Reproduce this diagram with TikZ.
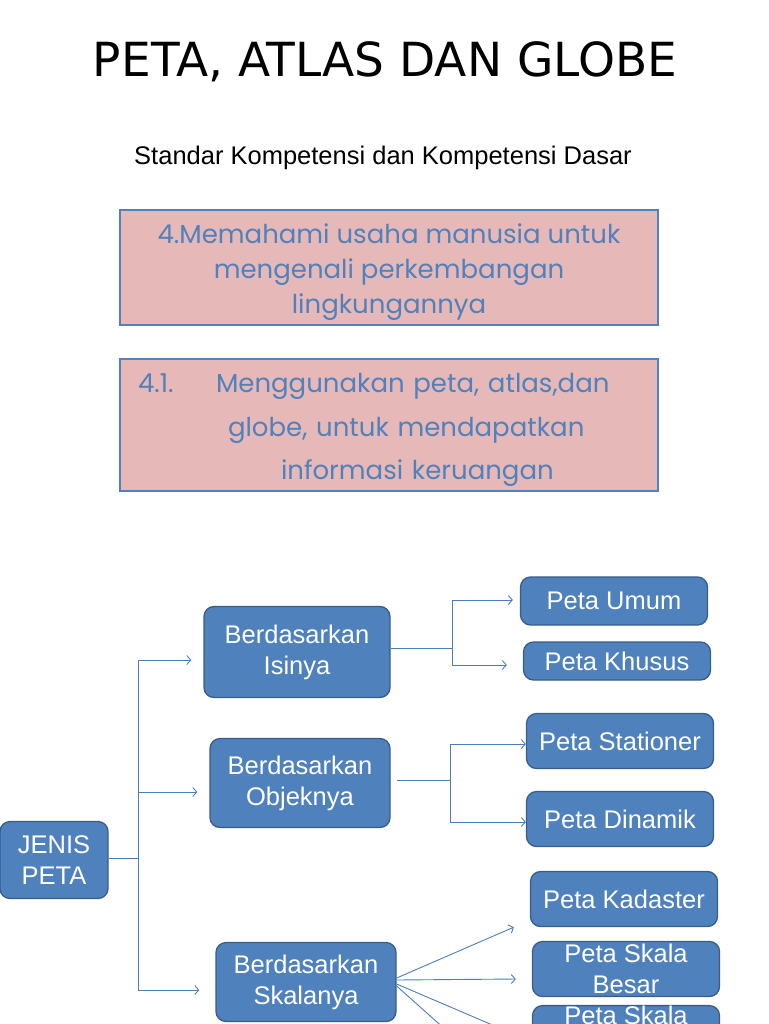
\documentclass[tikz,border=0pt]{standalone}
\usepackage{fontspec}
\setmainfont{Liberation Sans}
\newfontfamily\judulfont{DejaVu Sans}
\newfontfamily\kdfont{Poppins}
\usetikzlibrary{positioning,arrows.meta}
\definecolor{biru}{HTML}{4F81BD}
\definecolor{birutua}{HTML}{385D8A}
\definecolor{merahmuda}{HTML}{E6B9B8}
\definecolor{garis}{HTML}{4A7EBB}
\tikzset{
    jenis/.style={rectangle, rounded corners=10pt, draw=birutua, line width=1.3pt, fill=biru, text=white, align=center, inner sep=0pt, font=\fontsize{25.5}{31}\selectfont},
    kd/.style={rectangle, draw=biru, line width=1.5pt, fill=merahmuda},
    kd teks/.style={text=biru, inner sep=0pt, font=\kdfont\fontsize{26}{35}\selectfont},
    conn/.style={draw=garis, line width=0.9pt},
    arr/.style={conn, -{Straight Barb[length=4pt,width=9pt]}}
}

\begin{document}
\begin{tikzpicture}[x=1pt, y=-1pt]
    \useasboundingbox (0,0) rectangle (768,1024);
    \clip (0,0) rectangle (768,1024);

    % judul
    \node[font=\judulfont\fontsize{47}{50}\selectfont] (judul) at (385,62) {PETA, ATLAS DAN GLOBE};
    \node[font=\fontsize{25.5}{28}\selectfont] (subjudul) at (383,158) {Standar Kompetensi dan Kompetensi Dasar};

    % standar kompetensi
    \node[kd, minimum width=538, minimum height=115] (kd1) at (389,267.5) {};
    \node[kd teks, align=center] (kd1 teks) at (389,272)
        {4.Memahami usaha manusia untuk\\mengenali perkembangan\\lingkungannya};
    \node[kd, minimum width=538, minimum height=132] (kd2) at (389,425) {};
    \node[kd teks, text width=510, align=left, font=\kdfont\fontsize{26}{43.5}\selectfont] (kd2 teks) at (389,430)
        {\hspace*{4pt}\makebox[78pt][l]{4.1.}Menggunakan peta, atlas,dan\\
         \hspace*{94pt}globe, untuk mendapatkan\\
         \hspace*{147pt}informasi keruangan};

    % jenis peta
    \node[jenis, minimum width=108, minimum height=77] (jp) at (54,860) {JENIS\\PETA};
    \node[jenis, minimum width=186, minimum height=91] (isi) at (297,652) {Berdasarkan\\Isinya};
    \node[jenis, minimum width=180, minimum height=89] (obj) at (300,783) {Berdasarkan\\Objeknya};
    \node[jenis, minimum width=180, minimum height=79] (skala) at (306,982) {Berdasarkan\\Skalanya};

    \node[jenis, minimum width=187, minimum height=48] (umum) at (614,601) {Peta Umum};
    \node[jenis, minimum width=187, minimum height=38] (khusus) at (617,661) {Peta Khusus};
    \node[jenis, minimum width=187, minimum height=55] (stationer) at (620,741) {Peta Stationer};
    \node[jenis, minimum width=187, minimum height=55] (dinamik) at (620,819) {Peta Dinamik};
    \node[jenis, minimum width=187, minimum height=55] (kadaster) at (624,899) {Peta Kadaster};
    \node[jenis, minimum width=187, minimum height=55] (besar) at (626,969) {Peta Skala\\Besar};
    \node[jenis, minimum width=187, minimum height=55] (kecil) at (626,1035) {Peta Skala\\\strut};

    % cabang utama
    \coordinate (bus) at (138,858);
    \coordinate (b1) at (138,660);
    \coordinate (b2) at (138,792);
    \coordinate (b3) at (138,990);
    \draw[conn] (jp.east |- bus) -- (bus);
    \draw[conn] (b1) -- (b3);
    \draw[arr, shorten >=12pt] (b1) -- (b1 -| isi.west);
    \draw[arr, shorten >=12pt] (b2) -- (b2 -| obj.west);
    \draw[arr, shorten >=16pt] (b3) -- (b3 -| skala.west);

    % isinya
    \coordinate (c0) at (452,648);
    \coordinate (c1) at (452,600);
    \coordinate (c2) at (452,665);
    \draw[conn] (isi.east |- c0) -- (c0);
    \draw[conn] (c1) -- (c2);
    \draw[arr, shorten >=7pt] (c1) -- (c1 -| umum.west);
    \draw[arr, shorten >=16pt] (c2) -- (c2 -| khusus.west);

    % objeknya
    \coordinate (d0) at (450,780);
    \coordinate (d1) at (450,744);
    \coordinate (d2) at (450,822);
    \draw[conn] ([xshift=6pt]obj.east |- d0) -- (d0);
    \draw[conn] (d1) -- (d2);
    \draw[arr] (d1) -- (d1 -| stationer.west);
    \draw[arr] (d2) -- (d2 -| dinamik.west);

    % skalanya
    \coordinate (sedang) at (485,1065);
    \draw[arr] ([yshift=4pt]skala.east) -- ([xshift=-16pt]kadaster.south west);
    \draw[arr] ([yshift=2pt]skala.east) -- ([xshift=-16pt,yshift=-10pt]besar.west);
    \draw[arr] ([yshift=-2pt]skala.east) -- ([xshift=-16pt]kecil.west);
    \draw[conn] ([yshift=-4pt]skala.east) -- (sedang);
\end{tikzpicture}
\end{document}
